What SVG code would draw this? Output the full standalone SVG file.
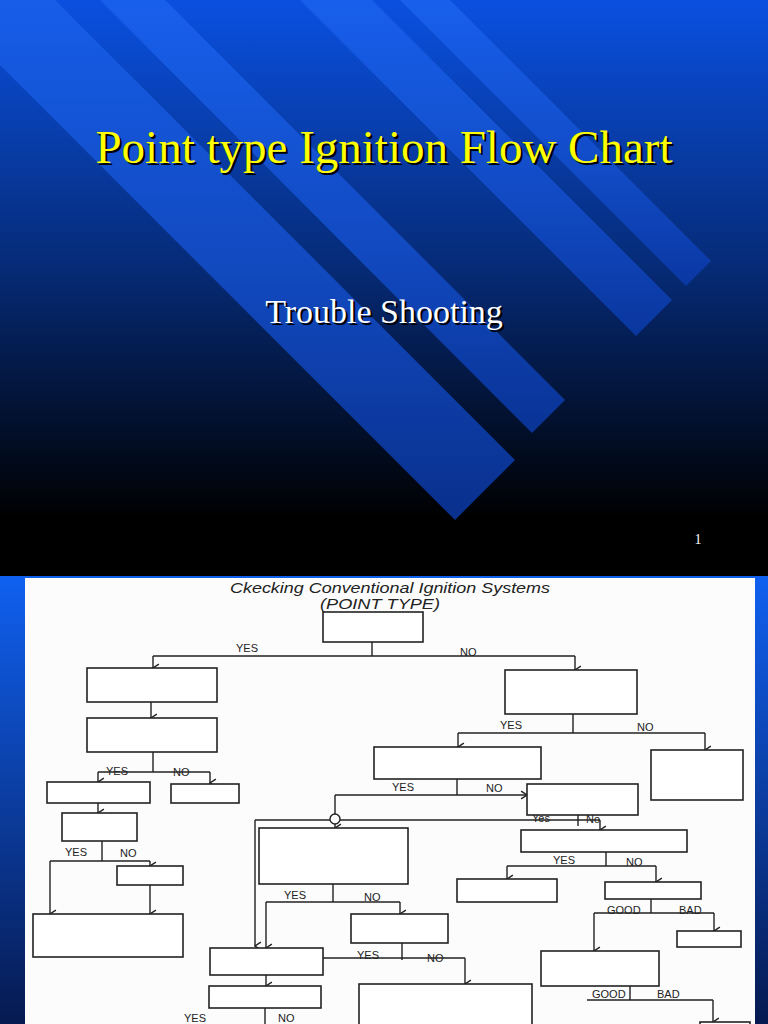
<svg xmlns="http://www.w3.org/2000/svg" width="768" height="1024" viewBox="0 0 768 1024">
<defs>
<linearGradient id="bg" x1="0" y1="0" x2="0" y2="1"><stop offset="0" stop-color="#0a50e0"/><stop offset="0.45" stop-color="#062c7a"/><stop offset="0.9" stop-color="#000"/><stop offset="1" stop-color="#000"/></linearGradient>
<linearGradient id="bd" x1="0" y1="0" x2="0" y2="1"><stop offset="0" stop-color="#1c64f0"/><stop offset="0.6" stop-color="#1450d0"/><stop offset="1" stop-color="#0c3cb0"/></linearGradient>
<linearGradient id="bg2" x1="0" y1="0" x2="0" y2="1"><stop offset="0" stop-color="#1060f0"/><stop offset="1" stop-color="#061a50"/></linearGradient>
<marker id="ar" viewBox="0 0 10 10" refX="5" refY="9" markerWidth="7" markerHeight="7" orient="auto-start-reverse"><path d="M1,3 L5,9 L9,3" fill="none" stroke="#222" stroke-width="1.4"/></marker>
<marker id="ah" viewBox="0 0 10 10" refX="9" refY="5" markerWidth="7" markerHeight="7" orient="auto"><path d="M3,1 L9,5 L3,9" fill="none" stroke="#222" stroke-width="1.4"/></marker>
</defs>
<style>
.b{fill:#fff;stroke:#222;stroke-width:1.6}
.c{fill:none;stroke:#222;stroke-width:1.4}
.d{marker-end:url(#ar)}
.l{font-family:"Liberation Sans",sans-serif;font-size:11px;fill:#222}
.h{font-family:"Liberation Sans",sans-serif;font-size:14px;fill:#222;font-style:italic}
</style>
<rect width="768" height="576" fill="url(#bg)"/>
<g fill="url(#bd)" opacity="0.8">
<polygon points="400,0 450,0 711,261 686,286"/>
<polygon points="300,0 372,0 672,300 636,336"/>
<polygon points="100,0 165,0 565,400 532,433"/>
<polygon points="0,65 0,-55 515,460 455,520"/>
</g>
<text x="386" y="165" text-anchor="middle" font-family="Liberation Serif,serif" font-size="47" fill="#000">Point type Ignition Flow Chart</text>
<text x="384" y="163" text-anchor="middle" font-family="Liberation Serif,serif" font-size="47" fill="#ffff00">Point type Ignition Flow Chart</text>
<text x="386" y="325" text-anchor="middle" font-family="Liberation Serif,serif" font-size="34" fill="#000">Trouble Shooting</text>
<text x="384" y="323" text-anchor="middle" font-family="Liberation Serif,serif" font-size="34" fill="#fff">Trouble Shooting</text>
<text x="698" y="544" text-anchor="middle" font-family="Liberation Serif,serif" font-size="14" fill="#fff">1</text>
<rect x="0" y="576" width="768" height="448" fill="url(#bg2)"/>
<rect x="25" y="578" width="730" height="446" fill="#fcfcfc"/>
<text x="230" y="593" class="h" textLength="320" lengthAdjust="spacingAndGlyphs">Ckecking  Conventional  Ignition Systems</text>
<text x="320" y="609" class="h" font-size="11" textLength="120" lengthAdjust="spacingAndGlyphs">(POINT TYPE)</text>
<g id="connectors">
<path class="c" d="M372,642V656M153,656H575"/><path class="c d" d="M153,656V668"/><path class="c d" d="M575,656V670"/>
<path class="c d" d="M151,702V718"/>
<path class="c" d="M153,752V772M98,772H210"/><path class="c d" d="M98,772V782"/><path class="c d" d="M210,772V783"/>
<path class="c d" d="M98,803V813"/>
<path class="c" d="M102,841V861M50,861H150"/><path class="c d" d="M150,861V866"/><path class="c d" d="M50,861V914"/><path class="c d" d="M150,885V914"/>
<path class="c" d="M573,714V733M458,733H705"/><path class="c d" d="M458,733V747"/><path class="c d" d="M705,733V750"/>
<path class="c" d="M457,779V795M335,795V814"/><path class="c" d="M335,795H527" marker-end="url(#ah)"/>
<circle cx="335" cy="819" r="5" class="c"/>
<path class="c" d="M255,820H330M340,820H600M578,815V826"/><path class="c d" d="M335,824V828"/><path class="c d" d="M255,820V946"/><path class="c d" d="M600,820V830"/>
<path class="c" d="M606,852V866M507,866H656"/><path class="c d" d="M507,866V879"/><path class="c d" d="M656,866V882"/>
<path class="c" d="M651,899V913M594,913H714"/><path class="c d" d="M714,913V931"/><path class="c d" d="M594,913V951"/>
<path class="c" d="M630,986V1000M587,1000H713"/><path class="c d" d="M713,1000V1022"/>
<path class="c" d="M333,884V902M266,902H400"/><path class="c d" d="M266,902V948"/><path class="c d" d="M400,902V914"/>
<path class="c" d="M402,943V960M320,958H465"/><path class="c d" d="M465,958V984"/>
<path class="c d" d="M266,975V986"/><path class="c" d="M265,1008V1024"/>
</g>
<g id="labels">
<text x="236" y="652" class="l" font-size="13">YES</text><text x="460" y="656" class="l">NO</text>
<text x="106" y="775" class="l">YES</text><text x="173" y="776" class="l">NO</text>
<text x="65" y="856" class="l">YES</text><text x="120" y="857" class="l">NO</text>
<text x="500" y="729" class="l" font-size="13">YES</text><text x="637" y="731" class="l">NO</text>
<text x="392" y="791" class="l">YES</text><text x="486" y="792" class="l">NO</text>
<text x="532" y="822" class="l" font-size="7">Yes</text><text x="586" y="823" class="l" font-size="7">No</text>
<text x="553" y="864" class="l" font-size="13">YES</text><text x="626" y="866" class="l">NO</text>
<text x="607" y="914" class="l">GOOD</text><text x="679" y="914" class="l">BAD</text>
<text x="592" y="998" class="l">GOOD</text><text x="657" y="998" class="l">BAD</text>
<text x="284" y="899" class="l" font-size="13">YES</text><text x="364" y="901" class="l">NO</text>
<text x="357" y="959" class="l">YES</text><text x="427" y="962" class="l">NO</text>
<text x="184" y="1022" class="l">YES</text><text x="278" y="1022" class="l">NO</text>
</g>
<g id="n0"><rect class="b" x="323" y="612" width="100" height="30"/></g>
<g id="nL1"><rect class="b" x="87" y="668" width="130" height="34"/></g>
<g id="nL2"><rect class="b" x="87" y="718" width="130" height="34"/></g>
<g id="nL3a"><rect class="b" x="47" y="782" width="103" height="21"/></g>
<g id="nL3b"><rect class="b" x="171" y="784" width="68" height="19"/></g>
<g id="nL4"><rect class="b" x="62" y="813" width="75" height="28"/></g>
<g id="nL5"><rect class="b" x="117" y="866" width="66" height="19"/></g>
<g id="nL6"><rect class="b" x="33" y="914" width="150" height="43"/></g>
<g id="nR1"><rect class="b" x="505" y="670" width="132" height="44"/></g>
<g id="nR2"><rect class="b" x="374" y="747" width="167" height="32"/></g>
<g id="nR3"><rect class="b" x="651" y="750" width="92" height="50"/></g>
<g id="nR4"><rect class="b" x="527" y="784" width="111" height="31"/></g>
<g id="nR5"><rect class="b" x="521" y="830" width="166" height="22"/></g>
<g id="nR6"><rect class="b" x="457" y="879" width="100" height="23"/></g>
<g id="nR7"><rect class="b" x="605" y="882" width="96" height="17"/></g>
<g id="nR8"><rect class="b" x="677" y="931" width="64" height="16"/></g>
<g id="nR9"><rect class="b" x="541" y="951" width="118" height="35"/></g>
<g id="nR10"><rect class="b" x="700" y="1022" width="50" height="20"/></g>
<g id="nM1"><rect class="b" x="259" y="828" width="149" height="56"/></g>
<g id="nM2"><rect class="b" x="351" y="914" width="97" height="29"/></g>
<g id="nM3"><rect class="b" x="210" y="948" width="113" height="27"/></g>
<g id="nM4"><rect class="b" x="359" y="984" width="173" height="50"/></g>
<g id="nM5"><rect class="b" x="209" y="986" width="112" height="22"/></g>
</svg>
